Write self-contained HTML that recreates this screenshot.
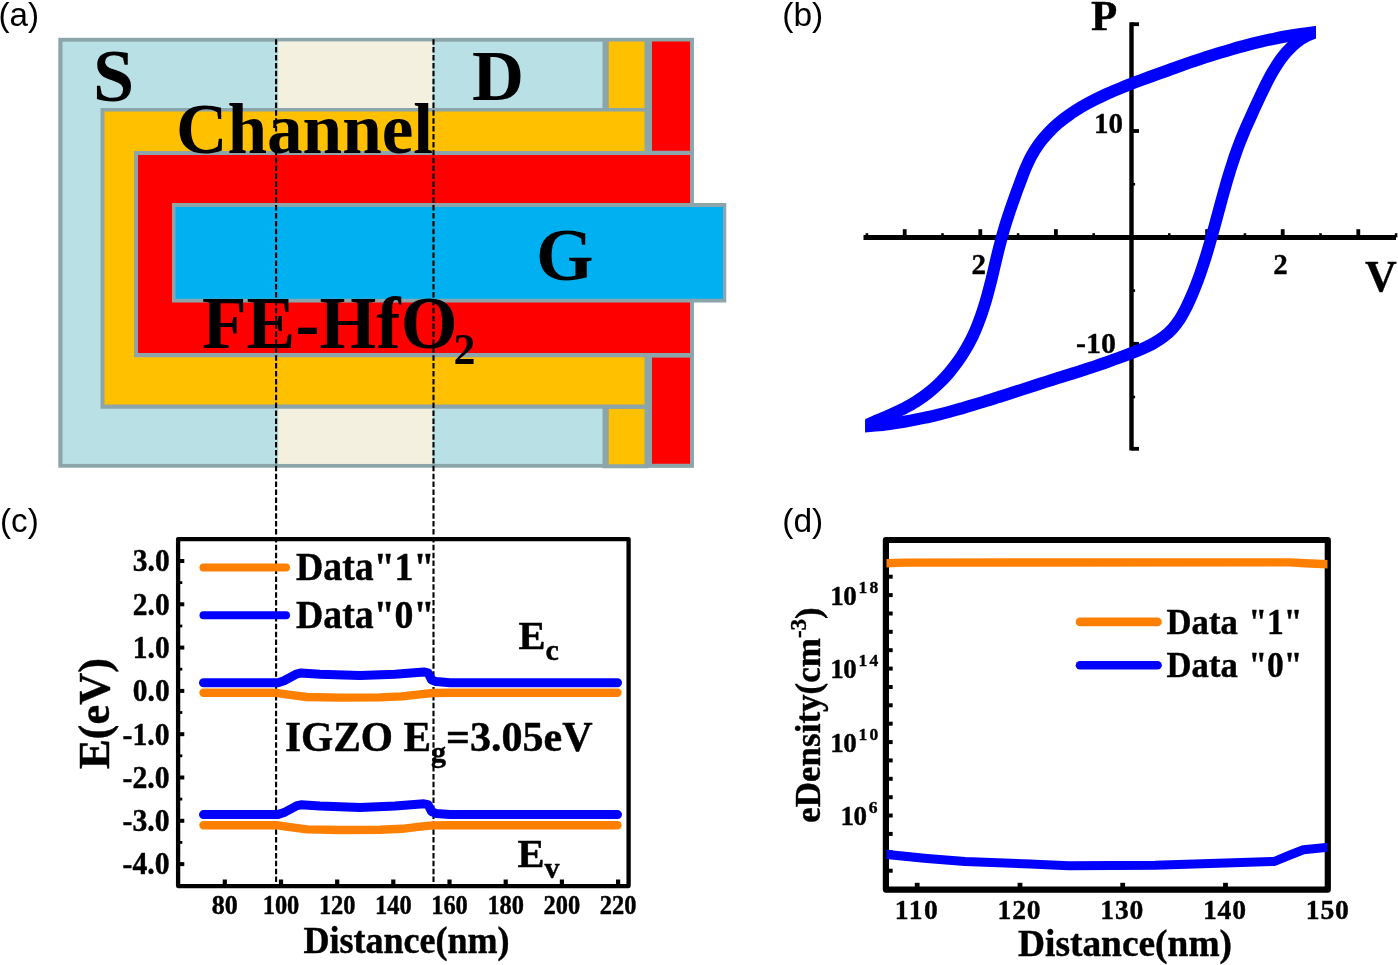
<!DOCTYPE html>
<html lang="en"><head><meta charset="utf-8"><title>Figure</title>
<style>html,body{margin:0;padding:0;background:#fff;}body{width:1398px;height:965px;overflow:hidden;}svg{display:block;}
text{font-family:"Liberation Serif",serif;font-weight:bold;fill:#000;}
text.lbl{font-family:"Liberation Sans",sans-serif;font-weight:normal;}
</style></head><body>
<svg width="1398" height="965" viewBox="0 0 1398 965">
<rect width="1398" height="965" fill="#fff"/>
<g id="pa">
<rect x="58.30" y="37.80" width="635.45" height="429.90" fill="#8ba5aa"/><rect x="62.50" y="41.70" width="627.50" height="422.20" fill="#b9e0e5"/>
<rect x="278.30" y="41.50" width="154.30" height="422.40" fill="#f4f0df"/>
<rect x="602.50" y="38.00" width="46.00" height="73.50" fill="#8ba5aa"/><rect x="608.75" y="41.50" width="35.75" height="66.50" fill="#ffc000"/>
<rect x="602.50" y="404.50" width="46.00" height="63.75" fill="#8ba5aa"/><rect x="608.75" y="408.75" width="35.75" height="55.50" fill="#ffc000"/>
<rect x="100.50" y="108.00" width="548.00" height="300.75" fill="#8ba5aa"/><rect x="104.50" y="111.50" width="540.00" height="293.00" fill="#ffc000"/>
<rect x="648.00" y="38.00" width="45.75" height="117.00" fill="#8ba5aa"/><rect x="652.00" y="41.50" width="38.00" height="109.25" fill="#ff0000"/>
<rect x="648.00" y="353.00" width="45.75" height="114.50" fill="#8ba5aa"/><rect x="652.00" y="357.50" width="38.00" height="106.25" fill="#ff0000"/>
<rect x="134.00" y="151.00" width="559.75" height="206.25" fill="#8ba5aa"/><rect x="138.00" y="155.00" width="552.00" height="198.00" fill="#ff0000"/>
<rect x="172.00" y="203.00" width="554.25" height="99.50" fill="#8ba5aa"/><rect x="175.50" y="207.00" width="547.50" height="91.75" fill="#00b0f0"/>
<text x="93" y="101.3" font-size="74">S</text>
<text x="176" y="153" font-size="71.2">Channel</text>
<text x="472" y="100.3" font-size="72">D</text>
<text x="536" y="279.5" font-size="74">G</text>
<text x="202" y="348" font-size="73">FE-HfO<tspan font-size="44" dy="16.3" dx="-4">2</tspan></text>
</g>
<g stroke="#000" stroke-width="2.1" stroke-dasharray="5.5 2.4" fill="none">
<line x1="276.1" y1="39.2" x2="276.1" y2="882.5"/>
<line x1="433.5" y1="39.2" x2="433.5" y2="882.5"/>
</g>
<text class="lbl" x="-1.5" y="26" font-size="33.2">(a)</text>
<text class="lbl" x="782.3" y="25.8" font-size="33.5">(b)</text>
<text class="lbl" x="0" y="532.1" font-size="33.2">(c)</text>
<text class="lbl" x="782.3" y="532.1" font-size="33.5">(d)</text>
<g id="pb" stroke="#000" stroke-width="0.35" stroke-linejoin="round">
<g stroke="#000" fill="none" stroke-linecap="butt">
<line x1="863.5" y1="237.4" x2="1396" y2="237.4" stroke-width="5"/>
<line x1="1131.5" y1="22.3" x2="1131.5" y2="450.5" stroke-width="4.4"/>
<line x1="904.7" y1="229.20000000000002" x2="904.7" y2="237.4" stroke-width="3.8"/>
<line x1="980.3" y1="229.20000000000002" x2="980.3" y2="237.4" stroke-width="3.8"/>
<line x1="1055.9" y1="229.20000000000002" x2="1055.9" y2="237.4" stroke-width="3.8"/>
<line x1="1207.1" y1="229.20000000000002" x2="1207.1" y2="237.4" stroke-width="3.8"/>
<line x1="1282.7" y1="229.20000000000002" x2="1282.7" y2="237.4" stroke-width="3.8"/>
<line x1="1358.3" y1="229.20000000000002" x2="1358.3" y2="237.4" stroke-width="3.8"/>
<line x1="866.9" y1="233.20000000000002" x2="866.9" y2="237.4" stroke-width="2.6"/>
<line x1="942.5" y1="233.20000000000002" x2="942.5" y2="237.4" stroke-width="2.6"/>
<line x1="1018.1" y1="233.20000000000002" x2="1018.1" y2="237.4" stroke-width="2.6"/>
<line x1="1093.7" y1="233.20000000000002" x2="1093.7" y2="237.4" stroke-width="2.6"/>
<line x1="1169.3" y1="233.20000000000002" x2="1169.3" y2="237.4" stroke-width="2.6"/>
<line x1="1244.9" y1="233.20000000000002" x2="1244.9" y2="237.4" stroke-width="2.6"/>
<line x1="1320.5" y1="233.20000000000002" x2="1320.5" y2="237.4" stroke-width="2.6"/>
<line x1="1396.1" y1="233.20000000000002" x2="1396.1" y2="237.4" stroke-width="2.6"/>
<line x1="1131.5" y1="448.8" x2="1139.0" y2="448.8" stroke-width="3.8"/>
<line x1="1131.5" y1="343.8" x2="1139.0" y2="343.8" stroke-width="3.8"/>
<line x1="1131.5" y1="131.0" x2="1139.0" y2="131.0" stroke-width="3.8"/>
<line x1="1131.5" y1="24.2" x2="1139.0" y2="24.2" stroke-width="3.8"/>
<line x1="1131.5" y1="397.0" x2="1135.1" y2="397.0" stroke-width="2.6"/>
<line x1="1131.5" y1="290.6" x2="1135.1" y2="290.6" stroke-width="2.6"/>
<line x1="1131.5" y1="184.2" x2="1135.1" y2="184.2" stroke-width="2.6"/>
<line x1="1131.5" y1="77.8" x2="1135.1" y2="77.8" stroke-width="2.6"/>
</g>
<text x="1091" y="30.4" font-size="43">P</text>
<text x="1365" y="290.6" font-size="44">V</text>
<text x="1094" y="133.4" font-size="29">10</text>
<text x="1076" y="352.8" font-size="30">-10</text>
<text x="971.6" y="273.8" font-size="29">2</text>
<text x="1273.2" y="273.8" font-size="29">2</text>
<clipPath id="cpb"><rect x="865.2" y="0" width="450.8" height="480"/></clipPath>
<g clip-path="url(#cpb)"><path d="M850.2,433.1 C852.3,432.0 858.5,428.7 862.8,426.7 C867.2,424.6 871.7,422.8 876.2,420.8 C880.7,418.9 885.4,417.0 889.9,415.0 C894.5,413.0 899.1,410.9 903.5,408.7 C907.8,406.4 912.2,404.0 916.3,401.4 C920.4,398.8 924.4,396.0 928.1,393.0 C931.9,390.0 935.6,386.8 939.0,383.5 C942.5,380.1 945.8,376.6 948.9,373.0 C952.0,369.3 955.0,365.5 957.8,361.6 C960.6,357.7 963.2,353.6 965.6,349.5 C968.1,345.3 970.3,341.1 972.5,336.7 C974.6,332.4 976.5,327.9 978.2,323.4 C980.0,318.9 981.6,314.3 983.1,309.7 C984.6,305.0 986.0,300.3 987.3,295.6 C988.6,290.9 989.8,286.1 991.0,281.4 C992.2,276.6 993.3,271.8 994.4,267.1 C995.6,262.3 996.7,257.5 997.8,252.8 C999.0,248.1 1000.2,243.3 1001.4,238.7 C1002.7,234.0 1004.0,229.4 1005.4,224.8 C1006.8,220.2 1008.3,215.7 1009.8,211.1 C1011.4,206.6 1013.0,202.0 1014.6,197.4 C1016.2,192.8 1017.9,188.2 1019.7,183.6 C1021.4,179.0 1023.1,174.2 1025.0,169.6 C1027.0,165.0 1029.0,160.4 1031.3,156.1 C1033.6,151.9 1036.2,147.8 1038.9,144.0 C1041.7,140.1 1044.8,136.5 1048.0,133.1 C1051.2,129.6 1054.6,126.4 1058.2,123.3 C1061.8,120.3 1065.5,117.4 1069.4,114.7 C1073.3,111.9 1077.4,109.4 1081.5,106.9 C1085.7,104.4 1090.0,102.1 1094.4,99.9 C1098.7,97.7 1103.2,95.6 1107.7,93.5 C1112.3,91.5 1116.9,89.6 1121.5,87.7 C1126.1,85.8 1130.8,84.0 1135.4,82.2 C1140.1,80.5 1144.8,78.7 1149.5,77.0 C1154.1,75.3 1158.8,73.6 1163.4,72.0 C1168.0,70.3 1172.6,68.6 1177.2,67.0 C1181.8,65.4 1186.4,63.8 1190.9,62.2 C1195.5,60.7 1200.1,59.1 1204.6,57.6 C1209.2,56.2 1213.8,54.7 1218.3,53.3 C1222.9,51.9 1227.5,50.5 1232.1,49.2 C1236.7,47.9 1241.3,46.6 1245.9,45.4 C1250.5,44.2 1255.2,43.0 1259.8,41.9 C1264.5,40.8 1269.2,39.7 1273.9,38.8 C1278.6,37.8 1283.4,36.9 1288.2,36.0 C1292.9,35.2 1297.8,34.4 1302.6,33.7 C1307.5,33.0 1312.4,32.4 1317.3,31.8 C1322.3,31.3 1329.8,30.7 1332.3,30.4" fill="none" stroke="#0000ff" stroke-width="12" stroke-linejoin="round" stroke-linecap="butt"/>
<path d="M1332.3,30.0 C1330.1,30.3 1323.1,30.5 1318.9,31.4 C1314.8,32.4 1310.9,33.9 1307.2,35.7 C1303.5,37.5 1300.0,39.8 1296.8,42.2 C1293.6,44.7 1290.6,47.6 1287.8,50.6 C1285.0,53.6 1282.5,56.9 1280.0,60.2 C1277.6,63.6 1275.4,67.2 1273.2,70.9 C1271.0,74.5 1269.1,78.3 1267.1,82.1 C1265.1,85.9 1263.3,89.9 1261.4,93.7 C1259.6,97.6 1257.8,101.5 1256.0,105.3 C1254.2,109.2 1252.5,113.0 1250.7,116.9 C1249.0,120.7 1247.3,124.5 1245.6,128.3 C1244.0,132.2 1242.4,136.0 1240.8,139.9 C1239.3,143.8 1237.8,147.7 1236.4,151.6 C1235.0,155.5 1233.7,159.5 1232.4,163.5 C1231.1,167.4 1229.8,171.4 1228.6,175.5 C1227.4,179.5 1226.2,183.5 1225.1,187.6 C1223.9,191.6 1222.8,195.7 1221.7,199.8 C1220.6,203.9 1219.5,207.9 1218.4,212.0 C1217.3,216.1 1216.2,220.2 1215.1,224.3 C1214.0,228.4 1212.8,232.5 1211.7,236.5 C1210.6,240.6 1209.4,244.7 1208.2,248.7 C1207.0,252.8 1205.8,256.9 1204.5,260.9 C1203.2,264.9 1201.9,268.9 1200.5,272.9 C1199.1,276.9 1197.6,280.9 1196.1,284.8 C1194.6,288.7 1193.0,292.6 1191.3,296.5 C1189.6,300.4 1187.9,304.3 1186.0,308.0 C1184.1,311.7 1182.1,315.5 1179.9,318.9 C1177.6,322.3 1175.2,325.7 1172.5,328.7 C1169.8,331.7 1166.8,334.4 1163.6,336.8 C1160.4,339.3 1156.8,341.4 1153.2,343.4 C1149.6,345.5 1145.7,347.2 1141.8,348.9 C1137.9,350.6 1133.9,352.2 1130.0,353.7 C1126.0,355.3 1122.0,356.8 1118.0,358.2 C1114.0,359.7 1110.0,361.1 1106.0,362.5 C1102.0,363.9 1098.0,365.2 1094.0,366.6 C1090.0,367.9 1086.0,369.2 1082.0,370.5 C1078.0,371.8 1074.0,373.1 1070.0,374.3 C1066.0,375.6 1061.9,376.9 1057.9,378.1 C1053.9,379.4 1049.9,380.6 1045.9,381.9 C1041.9,383.2 1037.9,384.4 1033.9,385.7 C1029.9,387.0 1025.9,388.3 1021.9,389.6 C1017.9,390.9 1013.9,392.2 1009.9,393.5 C1005.9,394.8 1001.9,396.1 997.9,397.3 C993.8,398.6 989.8,399.9 985.8,401.1 C981.8,402.4 977.8,403.6 973.8,404.8 C969.8,406.0 965.7,407.2 961.7,408.4 C957.7,409.5 953.6,410.6 949.6,411.7 C945.5,412.8 941.5,413.8 937.4,414.8 C933.3,415.8 929.2,416.8 925.1,417.7 C921.0,418.6 916.9,419.4 912.8,420.2 C908.7,421.0 904.6,421.8 900.4,422.4 C896.3,423.1 892.1,423.7 887.9,424.2 C883.7,424.8 879.5,425.2 875.3,425.6 C871.1,426.0 866.9,426.3 862.6,426.5 C858.3,426.7 851.9,426.8 849.8,426.9" fill="none" stroke="#0000ff" stroke-width="12" stroke-linejoin="round" stroke-linecap="butt"/></g>
</g>
<g id="pc" stroke="#000" stroke-width="0.45" stroke-linejoin="round">
<rect x="178.1" y="539.1" width="450.5" height="347.0" fill="none" stroke="#000" stroke-width="4.3"/>
<g stroke="#000" fill="none">
<line x1="178.1" y1="561.0" x2="184.29999999999998" y2="561.0" stroke-width="4"/>
<line x1="178.1" y1="604.3" x2="184.29999999999998" y2="604.3" stroke-width="4"/>
<line x1="178.1" y1="647.6" x2="184.29999999999998" y2="647.6" stroke-width="4"/>
<line x1="178.1" y1="690.9" x2="184.29999999999998" y2="690.9" stroke-width="4"/>
<line x1="178.1" y1="734.2" x2="184.29999999999998" y2="734.2" stroke-width="4"/>
<line x1="178.1" y1="777.5" x2="184.29999999999998" y2="777.5" stroke-width="4"/>
<line x1="178.1" y1="820.8" x2="184.29999999999998" y2="820.8" stroke-width="4"/>
<line x1="178.1" y1="864.1" x2="184.29999999999998" y2="864.1" stroke-width="4"/>
<line x1="178.1" y1="582.6" x2="182.29999999999998" y2="582.6" stroke-width="2.8"/>
<line x1="178.1" y1="626.0" x2="182.29999999999998" y2="626.0" stroke-width="2.8"/>
<line x1="178.1" y1="669.2" x2="182.29999999999998" y2="669.2" stroke-width="2.8"/>
<line x1="178.1" y1="712.5" x2="182.29999999999998" y2="712.5" stroke-width="2.8"/>
<line x1="178.1" y1="755.8" x2="182.29999999999998" y2="755.8" stroke-width="2.8"/>
<line x1="178.1" y1="799.1" x2="182.29999999999998" y2="799.1" stroke-width="2.8"/>
<line x1="178.1" y1="842.4" x2="182.29999999999998" y2="842.4" stroke-width="2.8"/>
<line x1="224.8" y1="886.1" x2="224.8" y2="879.5" stroke-width="4.2"/>
<line x1="281.0" y1="886.1" x2="281.0" y2="879.5" stroke-width="4.2"/>
<line x1="337.2" y1="886.1" x2="337.2" y2="879.5" stroke-width="4.2"/>
<line x1="393.3" y1="886.1" x2="393.3" y2="879.5" stroke-width="4.2"/>
<line x1="449.5" y1="886.1" x2="449.5" y2="879.5" stroke-width="4.2"/>
<line x1="505.7" y1="886.1" x2="505.7" y2="879.5" stroke-width="4.2"/>
<line x1="561.9" y1="886.1" x2="561.9" y2="879.5" stroke-width="4.2"/>
<line x1="618.1" y1="886.1" x2="618.1" y2="879.5" stroke-width="4.2"/>
</g>
<text x="132.8" y="571.3" font-size="31.5" textLength="36.8" lengthAdjust="spacingAndGlyphs">3.0</text>
<text x="132.8" y="614.6" font-size="31.5" textLength="36.8" lengthAdjust="spacingAndGlyphs">2.0</text>
<text x="132.8" y="657.9" font-size="31.5" textLength="36.8" lengthAdjust="spacingAndGlyphs">1.0</text>
<text x="132.8" y="701.2" font-size="31.5" textLength="36.8" lengthAdjust="spacingAndGlyphs">0.0</text>
<text x="122.6" y="744.5" font-size="31.5" textLength="47" lengthAdjust="spacingAndGlyphs">-1.0</text>
<text x="122.6" y="787.8" font-size="31.5" textLength="47" lengthAdjust="spacingAndGlyphs">-2.0</text>
<text x="122.6" y="831.1" font-size="31.5" textLength="47" lengthAdjust="spacingAndGlyphs">-3.0</text>
<text x="122.6" y="874.4" font-size="31.5" textLength="47" lengthAdjust="spacingAndGlyphs">-4.0</text>
<text x="224.8" y="914.2" font-size="26.5" text-anchor="middle" textLength="26" lengthAdjust="spacingAndGlyphs">80</text>
<text x="281.0" y="914.2" font-size="26.5" text-anchor="middle" textLength="36.6" lengthAdjust="spacingAndGlyphs">100</text>
<text x="337.2" y="914.2" font-size="26.5" text-anchor="middle" textLength="36.6" lengthAdjust="spacingAndGlyphs">120</text>
<text x="393.3" y="914.2" font-size="26.5" text-anchor="middle" textLength="36.6" lengthAdjust="spacingAndGlyphs">140</text>
<text x="449.5" y="914.2" font-size="26.5" text-anchor="middle" textLength="36.6" lengthAdjust="spacingAndGlyphs">160</text>
<text x="505.7" y="914.2" font-size="26.5" text-anchor="middle" textLength="36.6" lengthAdjust="spacingAndGlyphs">180</text>
<text x="561.9" y="914.2" font-size="26.5" text-anchor="middle" textLength="36.6" lengthAdjust="spacingAndGlyphs">200</text>
<text x="618.1" y="914.2" font-size="26.5" text-anchor="middle" textLength="36.6" lengthAdjust="spacingAndGlyphs">220</text>
<text x="303.5" y="953.3" font-size="38.5" textLength="206" lengthAdjust="spacingAndGlyphs">Distance(nm)</text>
<text transform="translate(108.8,713.5) rotate(-90)" font-size="44.5" text-anchor="middle">E(eV)</text>
<line x1="203.5" y1="567.6" x2="286" y2="567.6" stroke="#ff8000" stroke-width="8" stroke-linecap="round"/>
<line x1="203.5" y1="615.2" x2="286" y2="615.2" stroke="#0000ff" stroke-width="8" stroke-linecap="round"/>
<text x="296" y="580.2" font-size="40.5" textLength="138.5" lengthAdjust="spacingAndGlyphs">Data"1"</text>
<text x="296" y="628" font-size="40.5" textLength="138.5" lengthAdjust="spacingAndGlyphs">Data"0"</text>
<path d="M203.5,692.8 L276.0,692.8 L290.0,694.8 L307.0,697.0 L340.0,697.6 L380.0,697.4 L402.0,696.4 L420.0,694.3 L433.0,693.0 L450.0,692.8 L617.5,692.8" fill="none" stroke="#ff8000" stroke-width="8.4" stroke-linecap="round" stroke-linejoin="round"/>
<path d="M203.5,682.8 L278.0,682.8 L284.0,680.8 L297.0,673.8 L301.0,673.0 L320.0,674.2 L360.0,675.6 L395.0,674.2 L424.0,672.0 L428.0,672.8 L431.5,679.8 L436.0,681.6 L450.0,682.8 L617.5,682.8" fill="none" stroke="#0000ff" stroke-width="9" stroke-linecap="round" stroke-linejoin="round"/>
<path d="M203.5,825.2 L276.0,825.2 L290.0,827.2 L307.0,829.4 L340.0,830.0 L380.0,829.8 L402.0,828.8 L420.0,826.7 L433.0,825.4 L450.0,825.2 L617.5,825.2" fill="none" stroke="#ff8000" stroke-width="8.4" stroke-linecap="round" stroke-linejoin="round"/>
<path d="M203.5,814.6 L278.0,814.6 L284.0,812.6 L297.0,805.6 L301.0,804.8 L320.0,806.0 L360.0,807.4 L395.0,806.0 L424.0,803.8 L428.0,804.6 L431.5,811.6 L436.0,813.4 L450.0,814.6 L617.5,814.6" fill="none" stroke="#0000ff" stroke-width="9" stroke-linecap="round" stroke-linejoin="round"/>
<text x="518.5" y="648.8" font-size="40.5">E<tspan font-size="30" dy="11">c</tspan></text>
<text x="517.5" y="867" font-size="40.5">E<tspan font-size="30" dy="11">v</tspan></text>
<text x="285" y="750.6" font-size="42.5"><tspan textLength="146" lengthAdjust="spacingAndGlyphs">IGZO E</tspan><tspan font-size="30" dy="11.5">g</tspan><tspan dy="-11.5" textLength="146.5" lengthAdjust="spacingAndGlyphs">=3.05eV</tspan></text>
</g>
<g id="pd" stroke="#000" stroke-width="0.4" stroke-linejoin="round">
<rect x="885.9" y="540" width="441.9" height="349.6" fill="none" stroke="#000" stroke-width="6.2"/>
<g stroke="#000" fill="none">
<line x1="885.9" y1="576.7" x2="892.6999999999999" y2="576.7" stroke-width="4"/>
<line x1="885.9" y1="595.1" x2="892.6999999999999" y2="595.1" stroke-width="4"/>
<line x1="885.9" y1="613.5" x2="892.6999999999999" y2="613.5" stroke-width="4"/>
<line x1="885.9" y1="631.8" x2="892.6999999999999" y2="631.8" stroke-width="4"/>
<line x1="885.9" y1="650.2" x2="892.6999999999999" y2="650.2" stroke-width="4"/>
<line x1="885.9" y1="668.6" x2="892.6999999999999" y2="668.6" stroke-width="4"/>
<line x1="885.9" y1="687.0" x2="892.6999999999999" y2="687.0" stroke-width="4"/>
<line x1="885.9" y1="705.3" x2="892.6999999999999" y2="705.3" stroke-width="4"/>
<line x1="885.9" y1="723.7" x2="892.6999999999999" y2="723.7" stroke-width="4"/>
<line x1="885.9" y1="742.1" x2="892.6999999999999" y2="742.1" stroke-width="4"/>
<line x1="885.9" y1="760.4" x2="892.6999999999999" y2="760.4" stroke-width="4"/>
<line x1="885.9" y1="778.8" x2="892.6999999999999" y2="778.8" stroke-width="4"/>
<line x1="885.9" y1="797.2" x2="892.6999999999999" y2="797.2" stroke-width="4"/>
<line x1="885.9" y1="815.5" x2="892.6999999999999" y2="815.5" stroke-width="4"/>
<line x1="885.9" y1="833.9" x2="892.6999999999999" y2="833.9" stroke-width="4"/>
<line x1="885.9" y1="852.3" x2="892.6999999999999" y2="852.3" stroke-width="4"/>
<line x1="885.9" y1="870.7" x2="892.6999999999999" y2="870.7" stroke-width="4"/>
<line x1="917.2" y1="889.6" x2="917.2" y2="882.8000000000001" stroke-width="4.8"/>
<line x1="1020.0" y1="889.6" x2="1020.0" y2="882.8000000000001" stroke-width="4.8"/>
<line x1="1122.7" y1="889.6" x2="1122.7" y2="882.8000000000001" stroke-width="4.8"/>
<line x1="1225.5" y1="889.6" x2="1225.5" y2="882.8000000000001" stroke-width="4.8"/>
</g>
<clipPath id="cpd"><rect x="886.5" y="540" width="441.0" height="349.6"/></clipPath>
<g clip-path="url(#cpd)"><path d="M880.0,563.4 L905.0,562.6 L1290.0,562.4 L1305.0,563.2 L1335.0,564.6" fill="none" stroke="#ff8000" stroke-width="8.4" stroke-linejoin="round"/>
<path d="M880.0,853.8 L927.0,858.4 L965.0,861.6 L1030.0,864.0 L1069.0,865.7 L1155.0,865.3 L1218.0,863.2 L1274.5,861.4 L1290.0,855.0 L1303.4,849.7 L1335.0,846.6" fill="none" stroke="#0000ff" stroke-width="9" stroke-linejoin="round"/></g>
<text x="830.2" y="604.9" font-size="27" textLength="26.5" lengthAdjust="spacing">10</text>
<text x="858.4" y="592.5" font-size="17.5" letter-spacing="2.4">18</text>
<text x="830.2" y="678.4" font-size="27" textLength="26.5" lengthAdjust="spacing">10</text>
<text x="858.4" y="666.0" font-size="17.5" letter-spacing="2.4">14</text>
<text x="830.2" y="751.9" font-size="27" textLength="26.5" lengthAdjust="spacing">10</text>
<text x="858.4" y="739.5" font-size="17.5" letter-spacing="2.4">10</text>
<text x="840.4" y="825.3" font-size="27" textLength="26.5" lengthAdjust="spacing">10</text>
<text x="868.8" y="812.9" font-size="17.5" letter-spacing="2.4">6</text>
<text x="894.8" y="918.6" font-size="27.6" textLength="43" lengthAdjust="spacing">110</text>
<text x="997.6" y="918.6" font-size="27.6" textLength="43" lengthAdjust="spacing">120</text>
<text x="1100.3" y="918.6" font-size="27.6" textLength="43" lengthAdjust="spacing">130</text>
<text x="1203.0" y="918.6" font-size="27.6" textLength="43" lengthAdjust="spacing">140</text>
<text x="1305.8" y="918.6" font-size="27.6" textLength="43" lengthAdjust="spacing">150</text>
<text x="1018" y="955.6" font-size="37.2" textLength="214" lengthAdjust="spacingAndGlyphs">Distance(nm)</text>
<text transform="translate(820,715) rotate(-90)" font-size="35" text-anchor="middle">eDensity(cm<tspan font-size="23" dy="-14">-3</tspan><tspan dy="14">)</tspan></text>
<line x1="1080" y1="621.9" x2="1157.5" y2="621.9" stroke="#ff8000" stroke-width="8.6" stroke-linecap="round"/>
<line x1="1080" y1="665.2" x2="1157.5" y2="665.2" stroke="#0000ff" stroke-width="8.6" stroke-linecap="round"/>
<text x="1166.6" y="634" font-size="36.4" textLength="71.2" lengthAdjust="spacingAndGlyphs">Data</text>
<text x="1248.4" y="634" font-size="36.4" textLength="54" lengthAdjust="spacingAndGlyphs">"1"</text>
<text x="1166.6" y="677" font-size="36.4" textLength="71.2" lengthAdjust="spacingAndGlyphs">Data</text>
<text x="1248.4" y="677" font-size="36.4" textLength="54" lengthAdjust="spacingAndGlyphs">"0"</text>
</g>
</svg></body></html>
